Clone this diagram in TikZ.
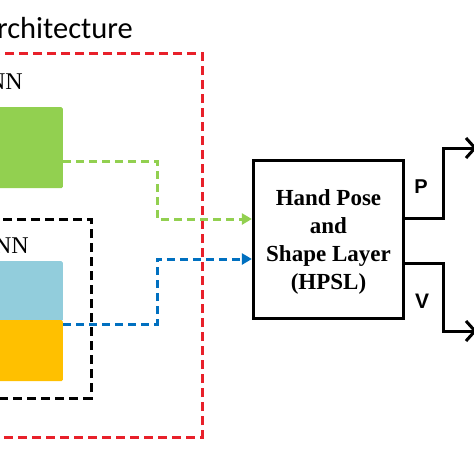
\documentclass[tikz,border=0pt]{standalone}
\usepackage{fontspec}
\setmainfont{Liberation Serif}
\setsansfont{Liberation Sans}
\newfontfamily\carlito{Carlito}
\usetikzlibrary{arrows.meta}
\definecolor{cgreen}{HTML}{92D050}
\definecolor{cblue}{HTML}{92CDDC}
\definecolor{cgold}{HTML}{FFC000}
\definecolor{lblue}{HTML}{0070C0}
\definecolor{cred}{HTML}{E8202A}
\tikzset{
  groupbox/.style={line width=3pt, dash pattern=on 9pt off 5pt},
  featbox/.style={draw=none, rounded corners=1.5pt, minimum width=100, minimum height=#1, inner sep=0pt},
  flow/.style={line width=3pt, dash pattern=on 8pt off 5pt, -{Triangle[length=10pt,width=11pt]}},
  outflow/.style={line width=3pt, -{Straight Barb[length=9pt,width=20pt,line width=3pt]}},
  lbl/.style={font=\fontsize{24}{24}\selectfont, inner sep=0pt}
}
\begin{document}
\begin{tikzpicture}[x=1pt,y=-1pt]
\useasboundingbox (0,0) rectangle (474,474);
\clip (0,0) rectangle (474,474);
\fill[white] (0,0) rectangle (474,474);
% title
\node[anchor=base east, inner sep=0pt, font=\carlito\fontsize{30.5}{30.5}\selectfont] (title) at (133,38) {Architecture};
% group boxes
\draw[groupbox, draw=cred] (-60,53) rectangle (202,437);
\draw[groupbox, draw=black] (-60,219) rectangle (91,398);
% labels
\node[lbl, anchor=base east] (cnn) at (23,89) {CNN};
\node[lbl, anchor=base east] (rnn) at (29,253) {RNN};
% feature blocks
\node[featbox=81, fill=cgreen, anchor=north east] (green) at (63,107) {};
\node[featbox=60, fill=cblue, anchor=north east] (blue) at (63,261) {};
\node[featbox=61, fill=cgold, anchor=north east] (gold) at (63,320) {};
% HPSL
\node[draw, line width=3.3pt, minimum width=150, minimum height=158] (h) at (328.5,239.5) {};
\node[align=center, inner sep=0pt, font=\fontsize{23}{28}\selectfont\bfseries] (htext) at ([yshift=-2.5pt]h.center)
      {Hand Pose\\and\\Shape Layer\\(HPSL)};
% connectors
\draw[flow, draw=cgreen, color=cgreen] ([yshift=-13.5pt]green.east) -- ++(94,0) |- ([yshift=20.5pt]h.west);
\draw[flow, draw=lblue, color=lblue] ([yshift=26.5pt]gold.east) -- ++(94,0) |- ([yshift=-19.5pt]h.west);
% outputs
\coordinate (pend) at (477,148);
\coordinate (vend) at (477,331);
\draw[outflow] ([yshift=21.5pt]h.east) -- ++(38,0) |- (pend);
\draw[outflow] ([yshift=-23.5pt]h.east) -- ++(38,0) |- (vend);
\node[font=\sffamily\bfseries\fontsize{20}{20}\selectfont, inner sep=0pt] (plbl) at (421,187) {P};
\node[font=\sffamily\bfseries\fontsize{21}{21}\selectfont, inner sep=0pt] (vlbl) at (422,301) {V};
\end{tikzpicture}
\end{document}
